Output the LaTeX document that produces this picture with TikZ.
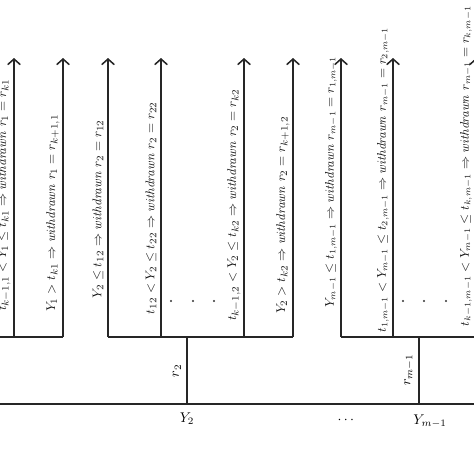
\documentclass[tikz,border=0pt]{standalone}
\usepackage{amsmath,amssymb}
\usepackage{tikz}
\usetikzlibrary{arrows.meta}

\tikzset{
  axis/.style={line width=1.1pt, draw=black!85},
  branch/.style={axis, -{Straight Barb[length=4pt,width=9pt]}},
  cond/.style={rotate=90, inner sep=0pt, text=black!90, font=\fontsize{9.5}{11}\selectfont},
  dot/.style={circle, fill=black!80, inner sep=0.6pt},
}
\newcommand{\wdr}{\Rightarrow\mathit{withdrawn}\ }

\begin{document}
\begin{tikzpicture}[x=0.025cm, y=-0.025cm]
\useasboundingbox (0,0) rectangle (474,474);
\fill[white] (0,0) rectangle (474,474);
\clip (0,0) rectangle (474,474);

% Time axis
\coordinate (axL) at (-10,404);
\coordinate (axR) at (490,404);
\draw[axis] (axL) -- (axR);
\node (gap) at (347,420) {$\cdots$};

% Y_1 (cut off on the left)
\coordinate (g1L) at (-10,337);
\coordinate (g1R) at (63,337);
\draw[axis] (g1L) -- (g1R);

% Y_2
\coordinate (Y2) at (187,404);
\coordinate (g2) at (187,337);
\coordinate (g2L) at (108,337);
\coordinate (g2R) at (293,337);
\draw[axis] (Y2) -- (g2);
\draw[axis] (g2L) -- (g2R);
\node[below=3pt] (labY2) at (Y2) {$Y_2$};
\node[rotate=90] (labr2) at (177,371) {$r_2$};

% Y_{m-1}
\coordinate (Ym) at (419,404);
\coordinate (gm) at (419,337);
\coordinate (gmL) at (341,337);
\coordinate (gmR) at (490,337);
\draw[axis] (Ym) -- (gm);
\draw[axis] (gmL) -- (gmR);
\node (labYm) at (430,421) {$Y_{m-1}$};
\node[rotate=90] (labrm) at (409,370) {$r_{m-1}$};

% withdrawal rules, Y_1 and Y_2
\foreach \x/\yc/\name/\txt in {
  14/195/a1/{t_{k-1,1} < Y_1 \le t_{k1} \wdr r_1 = r_{k1}},
  63/213/a2/{Y_1 > t_{k1} \wdr r_1 = r_{k+1,1}},
  108/209/b1/{Y_2 \le t_{12} \wdr r_2 = r_{12}},
  161/208/b2/{t_{12} < Y_2 \le t_{22} \wdr r_2 = r_{22}},
  244/205/b3/{t_{k-1,2} < Y_2 \le t_{k2} \wdr r_2 = r_{k2}},
  293/215/b4/{Y_2 > t_{k2} \wdr r_2 = r_{k+1,2}}} {
    \coordinate (\name) at (\x,337);
    \coordinate (\name top) at (\x,58);
    \draw[branch] (\name) -- (\name top);
    \node[cond] (\name txt) at (\x-10,\yc) {$\txt$};
}

% withdrawal rules, Y_{m-1}
\foreach \x/\yc/\name/\txt in {
  341/182/c1/{Y_{m-1} \le t_{1,m-1} \wdr r_{m-1} = r_{1,m-1}},
  393/180/c2/{t_{1,m-1} < Y_{m-1} \le t_{2,m-1} \wdr r_{m-1} = r_{2,m-1}},
  476/166/c3/{t_{k-1,m-1} < Y_{m-1} \le t_{k,m-1} \wdr r_{m-1} = r_{k,m-1}}} {
    \coordinate (\name) at (\x,337);
    \coordinate (\name top) at (\x,58);
    \draw[branch] (\name) -- (\name top);
    \node[cond, font=\fontsize{9}{11}\selectfont] (\name txt) at (\x-10,\yc) {$\txt$};
}

% skipped thresholds
\foreach \x in {171,193,214,403,424,446}
    \node[dot] (dot\x) at (\x,301) {};
\end{tikzpicture}
\end{document}
